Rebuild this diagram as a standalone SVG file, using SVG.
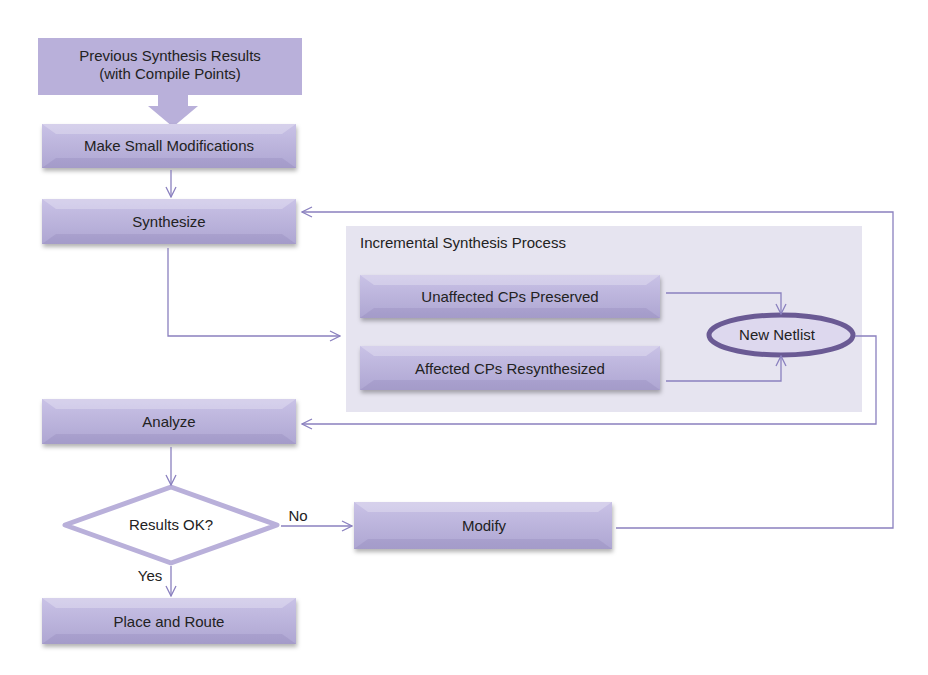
<svg xmlns="http://www.w3.org/2000/svg" width="928" height="675" viewBox="0 0 928 675">
<defs>
<linearGradient id="g" x1="0" y1="0" x2="0" y2="1"><stop offset="0" stop-color="#c9c2e6"/><stop offset="1" stop-color="#aea6d2"/></linearGradient>
<marker id="a" viewBox="0 0 12 12" refX="11" refY="6" markerWidth="12" markerHeight="12" markerUnits="userSpaceOnUse" orient="auto"><path d="M1,1 L11,6 L1,11" fill="none" stroke="#8a80bf" stroke-width="1.3"/></marker>
<filter id="s" x="-5%" y="-10%" width="110%" height="130%"><feDropShadow dx="1" dy="3" stdDeviation="2" flood-color="#000" flood-opacity="0.3"/></filter>
</defs>
<style>
.b{fill:url(#g);filter:url(#s)}
.bv{fill:#ffffff;opacity:0.25}
.bd{fill:#6a5f9a;opacity:0.15}
.t{font-family:"Liberation Sans",Arial,sans-serif;font-size:15px;fill:#222;text-anchor:middle}
.c{fill:none;stroke:#8a80bf;stroke-width:1.3}
</style>
<rect width="928" height="675" fill="#fff"/>
<g id="prev">
<rect x="38" y="38" width="264" height="57" fill="#b9b0da"/>
<path d="M158,95 H188 V106 H198 L173,127 L148,106 H158 Z" fill="#b9b0da"/>
<text class="t" x="170" y="61">Previous Synthesis Results</text>
<text class="t" x="170" y="79" font-size="14">(with Compile Points)</text>
</g>
<g id="make">
<rect class="b" x="42" y="124" width="254" height="44"/>
<path class="bv" d="M42,124 H296 L282,134 H56 Z"/><path class="bd" d="M42,168 H296 L282,158 H56 Z"/>
<text class="t" x="169" y="151">Make Small Modifications</text>
</g>
<g id="synth">
<rect class="b" x="42" y="199" width="254" height="45"/>
<path class="bv" d="M42,199 H296 L282,209 H56 Z"/><path class="bd" d="M42,244 H296 L282,234 H56 Z"/>
<text class="t" x="169" y="227">Synthesize</text>
</g>
<g id="panel">
<rect x="346" y="226" width="516" height="186" fill="#e6e4f0"/>
<text class="t" x="360" y="248" text-anchor="start" style="text-anchor:start" font-size="14">Incremental Synthesis Process</text>
</g>
<g id="unaff">
<rect class="b" x="360" y="275" width="300" height="43"/>
<path class="bv" d="M360,275 H660 L646,285 H374 Z"/><path class="bd" d="M360,318 H660 L646,308 H374 Z"/>
<text class="t" x="510" y="302">Unaffected CPs Preserved</text>
</g>
<g id="aff">
<rect class="b" x="360" y="346" width="300" height="44"/>
<path class="bv" d="M360,346 H660 L646,356 H374 Z"/><path class="bd" d="M360,390 H660 L646,380 H374 Z"/>
<text class="t" x="510" y="374">Affected CPs Resynthesized</text>
</g>
<g id="netlist">
<ellipse cx="781" cy="335" rx="72" ry="20" fill="#ddd8ee" stroke="#6a5a94" stroke-width="5"/>
<text class="t" x="777" y="340">New Netlist</text>
</g>
<g id="analyze">
<rect class="b" x="42" y="399" width="254" height="45"/>
<path class="bv" d="M42,399 H296 L282,409 H56 Z"/><path class="bd" d="M42,444 H296 L282,434 H56 Z"/>
<text class="t" x="169" y="427">Analyze</text>
</g>
<g id="decision">
<path d="M65,525 L171,487 L277,525 L171,563 Z" fill="#fff" stroke="#b9b0da" stroke-width="5" stroke-linejoin="round"/>
<text class="t" x="171" y="530">Results OK?</text>
</g>
<g id="modify">
<rect class="b" x="354" y="502" width="258" height="47"/>
<path class="bv" d="M354,502 H612 L598,512 H368 Z"/><path class="bd" d="M354,549 H612 L598,539 H368 Z"/>
<text class="t" x="484" y="531">Modify</text>
</g>
<g id="pnr">
<rect class="b" x="42" y="598" width="254" height="46"/>
<path class="bv" d="M42,598 H296 L282,608 H56 Z"/><path class="bd" d="M42,644 H296 L282,634 H56 Z"/>
<text class="t" x="169" y="627">Place and Route</text>
</g>
<g id="connectors">
<path class="c" d="M171,170 V197" marker-end="url(#a)"/>
<path class="c" d="M168,248 V336 H340" marker-end="url(#a)"/>
<path class="c" d="M666,293 H781 V314" marker-end="url(#a)"/>
<path class="c" d="M666,381 H781 V356" marker-end="url(#a)"/>
<path class="c" d="M855,336 H876 V424 H302" marker-end="url(#a)"/>
<path class="c" d="M171,447 V485" marker-end="url(#a)"/>
<path class="c" d="M281,526 H352" marker-end="url(#a)"/>
<path class="c" d="M171,566 V596" marker-end="url(#a)"/>
<path class="c" d="M616,528 H893 V212 H302" marker-end="url(#a)"/>
<text class="t" x="298" y="521" font-size="14">No</text>
<text class="t" x="150" y="581" font-size="14">Yes</text>
</g>
</svg>
